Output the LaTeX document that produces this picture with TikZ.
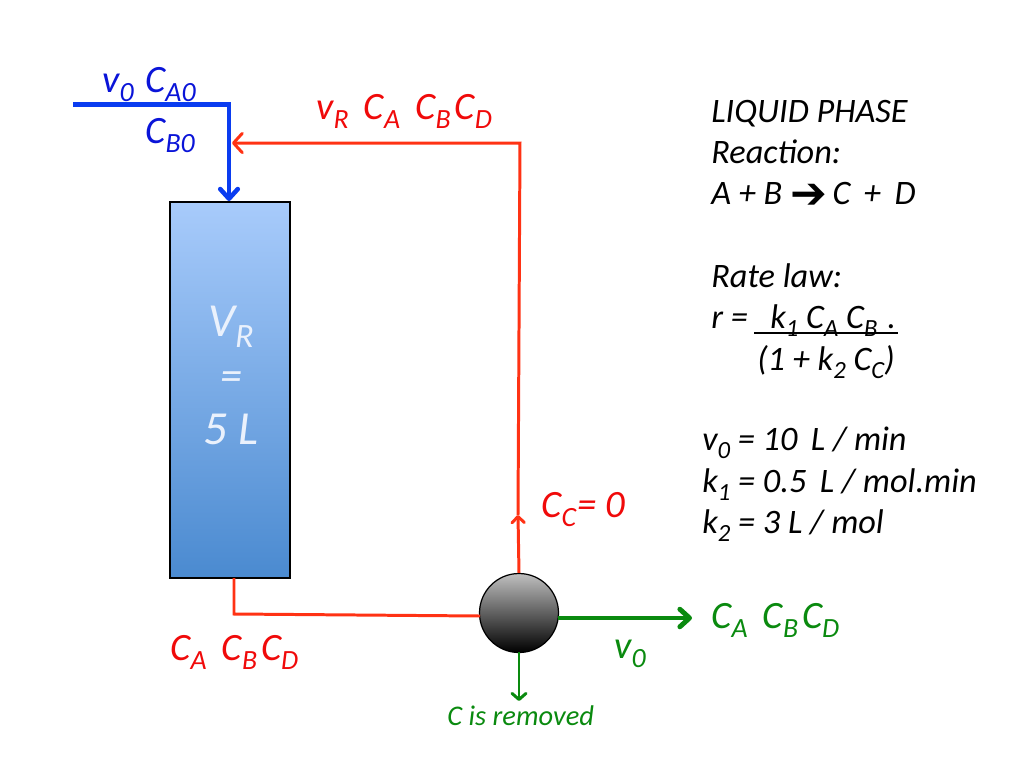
\documentclass[tikz,border=0pt]{standalone}
\usepackage{fontspec}
\setmainfont{Carlito}
\newfontfamily\arrowfont{DejaVu Sans}
\usetikzlibrary{arrows.meta}
\definecolor{feedblue}{HTML}{0A3CF0}
\definecolor{labelblue}{HTML}{0A14D8}
\definecolor{loopred}{HTML}{FF3214}
\definecolor{labelred}{HTML}{F00A0A}
\definecolor{exitgreen}{HTML}{0A8A0F}
\definecolor{tanktop}{HTML}{A8CBFB}
\definecolor{tanklow}{HTML}{4A8AD0}
\definecolor{tanktext}{HTML}{EAF1FC}
\newcommand{\idx}[1]{\raisebox{-0.5ex}{\scalebox{0.72}{#1}}}
\begin{document}
\begin{tikzpicture}
    \tikzstyle{every node}+=[inner sep=0pt, anchor=base west, font=\fontsize{19.5}{20}\selectfont\itshape]
    \tikzstyle{big}=[font=\fontsize{22}{22}\selectfont\itshape]
    \tikzstyle{bluepipe}=[feedblue, line width=2.6pt, -{Straight Barb[length=5.5pt,width=10pt,round]}]
    \tikzstyle{redpipe}=[loopred, line width=1.7pt]
    \tikzstyle{greenpipe}=[exitgreen, -{Straight Barb[length=5.5pt,width=10pt,round]}]
    \useasboundingbox (0,0) rectangle (20.48,-15.46);
    % units
    \node [draw=black, line width=0.6pt, anchor=center, minimum width=2.4cm, minimum height=7.52cm, top color=tanktop, bottom color=tanklow] (reactor) at (4.6,-7.8) {};
    \node [draw=black, line width=0.7pt, circle, anchor=center, minimum size=1.58cm, top color=black!25, bottom color=black] (separator) at (10.38,-12.26) {};
    % free ends
    \coordinate (feedin) at (1.46,-2.09);
    \coordinate (feedcorner) at (4.58,-2.09);
    \coordinate (feedend) at (4.58,-4.02);
    \coordinate (reactorout) at (4.68,-11.56);
    \coordinate (outcorner) at (4.68,-12.28);
    \coordinate (sepin) at (9.6,-12.32);
    \coordinate (upmark) at (10.36,-10.3);
    \coordinate (recyclecorner) at (10.4,-2.86);
    \coordinate (recycleend) at (4.64,-2.86);
    \coordinate (sepeast) at (11.16,-12.36);
    \coordinate (prodend) at (13.84,-12.36);
    \coordinate (sepsouth) at (10.38,-13.04);
    \coordinate (removeend) at (10.38,-14.02);
    % pipes
    \draw [bluepipe] (feedin) -- (feedcorner) -- (feedend);
    \draw [redpipe] (reactorout) -- (outcorner) -- (sepin);
    \draw [redpipe, -{Straight Barb[length=3.5pt,width=7pt,round]}] (separator.north) -- (upmark);
    \draw [redpipe, -{Straight Barb[length=5pt,width=11pt,round]}] (upmark) -- (recyclecorner) -- (recycleend);
    \draw [greenpipe, line width=2.8pt] (sepeast) -- (prodend);
    \draw [greenpipe, line width=1.7pt, -{Straight Barb[length=3.5pt,width=8pt,round]}] (sepsouth) -- (removeend);
    % stream labels
    \node [big, labelblue] (feedtop) at (2.04,-1.84) {v\idx{0}\hspace{.3em}C\idx{A0}};
    \node [big, labelblue] (feedlow) at (2.9,-2.86) {C\idx{B0}};
    \node [big, labelred] (recyclelab) at (6.32,-2.38) {v\idx{R}\, C\idx{A}\, C\idx{B}\hspace{.1em}C\idx{D}};
    \node [big, labelred] (outlab) at (3.4,-13.2) {C\idx{A}\, C\idx{B}\hspace{.1em}C\idx{D}};
    \node [big, labelred] (zerolab) at (10.82,-10.34) {C\idx{C}\hspace{.04em}=\hspace{.22em}0};
    \node [big, exitgreen] (prodlab) at (14.22,-12.56) {C\idx{A}\, C\idx{B}\hspace{.1em}C\idx{D}};
    \node [big, exitgreen] (flowlab) at (12.28,-13.16) {v\idx{0}};
    \node [exitgreen, font=\fontsize{16.2}{16}\selectfont\itshape] (removelab) at (8.94,-14.5) {C is removed};
    % reactor text
    \node [anchor=base, tanktext, font=\fontsize{27}{27}\selectfont\itshape] (volname) at (4.62,-6.72) {V\idx{R}};
    \node [anchor=base, tanktext, font=\fontsize{25}{25}\selectfont\itshape] (voleq) at (4.62,-7.8) {=};
    \node [anchor=base, tanktext, font=\fontsize{27}{27}\selectfont\itshape] (volval) at (4.62,-8.88) {5 L};
    % side notes
    \node (phase) at (14.22,-2.44) {LIQUID PHASE};
    \node (reaction) at (14.22,-3.26) {Reaction:};
    \node (equation) at (14.22,-4.08) {A + B \raisebox{-0.12em}{\arrowfont\upshape\fontsize{25}{25}\selectfont ➔}\,C \,+\, D};
    \node (ratelaw) at (14.22,-5.74) {Rate law:};
    \node (rateleft) at (14.22,-6.56) {r =};
    \node (ratetop) at (15.4,-6.56) {k\idx{1} C\idx{A} C\idx{B}};
    \node (ratedot) at (17.74,-6.56) {.};
    \coordinate (barleft) at (15.08,-6.66);
    \coordinate (barright) at (17.96,-6.66);
    \draw [black, line width=1.6pt] (barleft) -- (barright);
    \node (ratelow) at (15.14,-7.4) {(1 + k\idx{2} C\idx{C})};
    \node (flowval) at (14.04,-9) {v\idx{0} = 10 \,L / min};
    \node (konev) at (14.04,-9.84) {k\idx{1} = 0.5 \,L / mol.min};
    \node (ktwov) at (14.04,-10.66) {k\idx{2} = 3 L / mol};
\end{tikzpicture}
\end{document}
